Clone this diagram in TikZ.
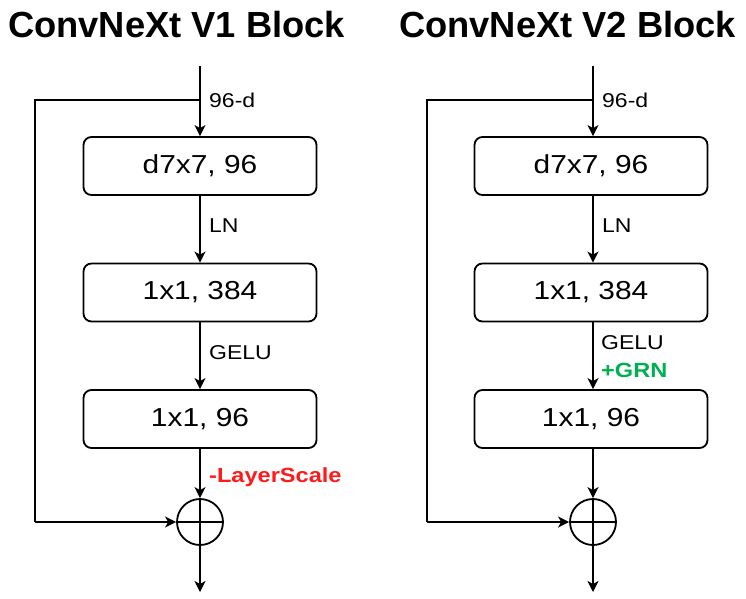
\documentclass[tikz,border=0pt]{standalone}
\usepackage{fontspec}
\setmainfont{Liberation Sans}
\newfontfamily\widefont[FakeStretch=1.15]{Liberation Sans}
\usetikzlibrary{arrows.meta}
\definecolor{lsred}{HTML}{FF1A1A}
\definecolor{grngreen}{HTML}{00B050}
\begin{document}
\begin{tikzpicture}[x=1pt,y=-1pt,
  blk/.style={draw,line width=1.8pt,rounded corners=8pt,minimum width=233pt,minimum height=58pt,inner sep=0pt,font=\widefont\fontsize{26}{30}\selectfont},
  lbl/.style={anchor=west,inner sep=0pt,font=\widefont\fontsize{20}{24}\selectfont},
  ttl/.style={anchor=base west,inner sep=0pt,font=\fontsize{36.3}{40}\selectfont\bfseries},
  con/.style={line width=1.8pt},
  arr/.style={con,-{Stealth[length=11pt,width=11pt,inset=3pt]}},
  plus/.style={draw,circle,line width=1.8pt,minimum size=46pt,inner sep=0pt}
]
\useasboundingbox (0,0) rectangle (746,598);
\fill[white] (0,0) rectangle (746,598);
% titles
\node[ttl] (t1) at (8,37) {ConvNeXt V1 Block};
\node[ttl] (t2) at (399,37) {ConvNeXt V2 Block};

% ---------- V1 ----------
\coordinate (ain) at (200,66);
\coordinate (abr) at (200,100);
\coordinate (atl) at (35,100);
\coordinate (abl) at (35,522);
\coordinate (aout) at (200,592);
\node[blk] (a1) at (200,166) {d7x7, 96};
\node[blk] (a2) at (200,292.5) {1x1, 384};
\node[blk] (a3) at (200,419) {1x1, 96};
\node[plus] (ap) at (200,522) {};
\draw[con] (ap.north) -- (ap.south);
\draw[con] (ap.west) -- (ap.east);
\draw[arr] (ain) -- (a1.north);
\draw[arr] (a1.south) -- (a2.north);
\draw[arr] (a2.south) -- (a3.north);
\draw[arr] (a3.south) -- (ap.north);
\draw[arr] (ap.south) -- (aout);
\draw[con] (abr) -- (atl) -- (abl);
\draw[arr] (abl) -- (ap.west);
\node[lbl] (al0) at (209,100) {96-d};
\node[lbl] (al1) at (209,226) {LN};
\node[lbl] (al2) at (209,353) {GELU};
\node[lbl,text=lsred,font=\widefont\fontsize{20.5}{24}\selectfont\bfseries] (al3) at (209,477) {-LayerScale};

% ---------- V2 ----------
\coordinate (bin) at (593,66);
\coordinate (bbr) at (593,100);
\coordinate (btl) at (427,100);
\coordinate (bbl) at (427,522);
\coordinate (bout) at (593,592);
\node[blk] (b1) at (591,166) {d7x7, 96};
\node[blk] (b2) at (591,292.5) {1x1, 384};
\node[blk] (b3) at (591,419) {1x1, 96};
\node[plus] (bp) at (593,522) {};
\draw[con] (bp.north) -- (bp.south);
\draw[con] (bp.west) -- (bp.east);
\draw[arr] (bin) -- (bin |- b1.north);
\draw[arr] (bin |- b1.south) -- (bin |- b2.north);
\draw[arr] (bin |- b2.south) -- (bin |- b3.north);
\draw[arr] (bin |- b3.south) -- (bp.north);
\draw[arr] (bp.south) -- (bout);
\draw[con] (bbr) -- (btl) -- (bbl);
\draw[arr] (bbl) -- (bp.west);
\node[lbl] (bl0) at (602,100) {96-d};
\node[lbl] (bl1) at (602,226) {LN};
\node[lbl] (bl2) at (601,343) {GELU};
\node[lbl,text=grngreen,font=\widefont\fontsize{20.5}{24}\selectfont\bfseries] (bl3) at (601,370) {+GRN};
\end{tikzpicture}
\end{document}
